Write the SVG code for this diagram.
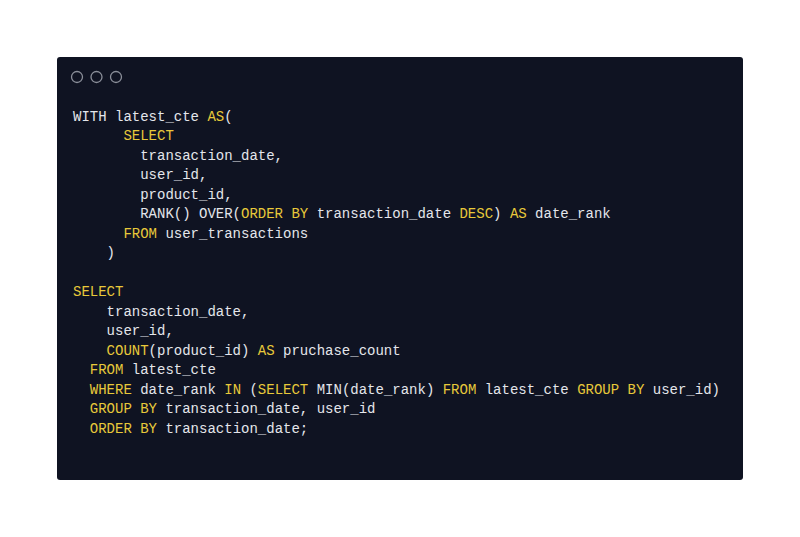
<svg xmlns="http://www.w3.org/2000/svg" width="800" height="537" viewBox="0 0 800 537">
<style>
.code{font-family:"Liberation Mono","DejaVu Sans Mono",monospace;font-size:14px;fill:#e4e6eb;}
.kw{fill:#e8c93a;}
.dot{fill:none;stroke:#8a8e99;stroke-width:1.3;}
</style>
<rect width="800" height="537" fill="#ffffff"/>
<g id="window">
<rect x="57" y="57" width="686" height="423" rx="3" fill="#0f1322"/>
<circle class="dot" cx="77" cy="77" r="5.5"/>
<circle class="dot" cx="96.5" cy="77" r="5.5"/>
<circle class="dot" cx="116" cy="77" r="5.5"/>
</g>
<g id="code" class="code">
<text x="73" y="120.5">WITH latest_cte <tspan class="kw">AS</tspan>(</text>
<text x="123.4" y="140"><tspan class="kw">SELECT</tspan></text>
<text x="140.2" y="159.5">transaction_date,</text>
<text x="140.2" y="179">user_id,</text>
<text x="140.2" y="198.5">product_id,</text>
<text x="140.2" y="218">RANK() OVER(<tspan class="kw">ORDER BY</tspan> transaction_date <tspan class="kw">DESC</tspan>) <tspan class="kw">AS</tspan> date_rank</text>
<text x="123.4" y="237.5"><tspan class="kw">FROM</tspan> user_transactions</text>
<text x="106.6" y="257">)</text>
<text x="73" y="296"><tspan class="kw">SELECT</tspan></text>
<text x="106.6" y="315.5">transaction_date,</text>
<text x="106.6" y="335">user_id,</text>
<text x="106.6" y="354.5"><tspan class="kw">COUNT</tspan>(product_id) <tspan class="kw">AS</tspan> pruchase_count</text>
<text x="89.8" y="374"><tspan class="kw">FROM</tspan> latest_cte</text>
<text x="89.8" y="393.5"><tspan class="kw">WHERE</tspan> date_rank <tspan class="kw">IN</tspan> (<tspan class="kw">SELECT</tspan> MIN(date_rank) <tspan class="kw">FROM</tspan> latest_cte <tspan class="kw">GROUP BY</tspan> user_id)</text>
<text x="89.8" y="413"><tspan class="kw">GROUP BY</tspan> transaction_date, user_id</text>
<text x="89.8" y="432.5"><tspan class="kw">ORDER BY</tspan> transaction_date;</text>
</g>
</svg>
